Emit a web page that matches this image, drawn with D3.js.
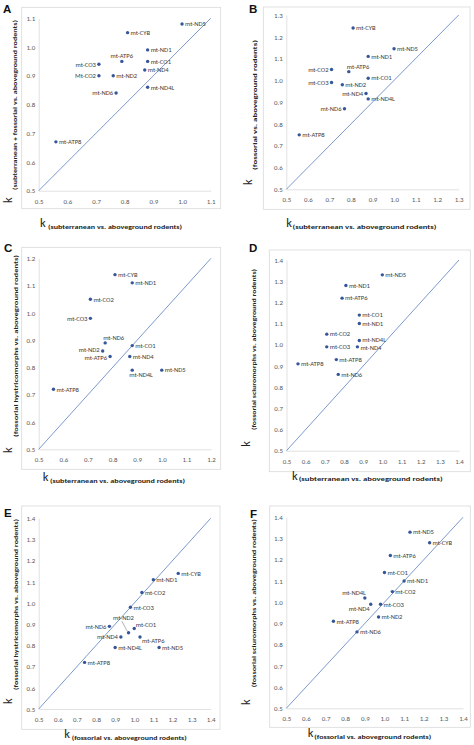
<!DOCTYPE html>
<html>
<head>
<meta charset="utf-8">
<script src="https://cdn.jsdelivr.net/npm/d3@7"></script>
<style>
  body { margin: 0; background: #fff; }
  svg { display: block; }
</style>
</head>
<body>
<svg id="chart" width="474" height="745"></svg>
<script>
// ---- tick values ----
const ticksA = [0.5, 0.6, 0.7, 0.8, 0.9, 1.0, 1.1];
const ticksB = [0.5, 0.6, 0.7, 0.8, 0.9, 1.0, 1.1, 1.2, 1.3];
const ticksC = [0.5, 0.6, 0.7, 0.8, 0.9, 1.0, 1.1, 1.2];
const ticksD = [0.5, 0.6, 0.7, 0.8, 0.9, 1.0, 1.1, 1.2, 1.3, 1.4];

// ---- panel A ----
const genesA = ["mt-ND5", "mt-CYB", "mt-ND1", "mt-ATP6", "mt-CO1", "mt-CO3", "Mt-CO2", "mt-ND2", "mt-ND4", "mt-ND4L", "mt-ND6", "mt-ATP8"];
const xA = [1.00, 0.81, 0.88, 0.79, 0.88, 0.71, 0.71, 0.76, 0.87, 0.88, 0.77, 0.56];
const yA = [1.08, 1.05, 0.99, 0.95, 0.95, 0.94, 0.90, 0.90, 0.92, 0.86, 0.84, 0.67];
const sideA = ["r", "r", "r", "t", "r", "l", "l", "r", "r", "r", "l", "r"];

// ---- panel B ----
const genesB = ["mt-CYB", "mt-ND5", "mt-ND1", "mt-CO2", "mt-ATP6", "mt-CO1", "mt-CO3", "mt-ND2", "mt-ND4", "mt-ND4L", "mt-ND6", "mt-ATP8"];
const xB = [0.81, 1.00, 0.88, 0.71, 0.79, 0.88, 0.71, 0.76, 0.87, 0.88, 0.77, 0.56];
const yB = [1.24, 1.145, 1.11, 1.05, 1.04, 1.01, 0.99, 0.98, 0.94, 0.915, 0.87, 0.75];
const sideB = ["r", "r", "r", "l", "tr", "r", "l", "r", "l", "r", "l", "r"];

// ---- panel C ----
const genesC = ["mt-CYB", "mt-ND1", "mt-CO2", "mt-CO3", "mt-ND6", "mt-ND2", "mt-ATP6", "mt-CO1", "mt-ND4", "mt-ND4L", "mt-ND5", "mt-ATP8"];
const xC = [0.81, 0.88, 0.71, 0.71, 0.77, 0.76, 0.79, 0.88, 0.87, 0.88, 1.00, 0.56];
const yC = [1.14, 1.11, 1.05, 0.98, 0.89, 0.86, 0.84, 0.88, 0.84, 0.79, 0.79, 0.72];
const sideC = ["r", "r", "r", "l", "tr", "lu", "ld", "r", "r", "br", "r", "r"];

// ---- panel D ----
const genesD = ["mt-ND5", "mt-ND1", "mt-ATP6", "mt-CO1", "mt-ND1", "mt-CO2", "mt-ND4L", "mt-CO3", "mt-ND4", "mt-ATP8", "mt-ATP8", "mt-ND6"];
const xD = [1.00, 0.81, 0.79, 0.88, 0.88, 0.71, 0.88, 0.71, 0.87, 0.76, 0.56, 0.77];
const yD = [1.33, 1.28, 1.22, 1.14, 1.10, 1.05, 1.02, 0.99, 0.99, 0.93, 0.91, 0.86];
const sideD = ["r", "r", "r", "r", "r", "r", "ru", "r", "rd", "r", "r", "r"];

// ---- panel E ----
const genesE = ["mt-CYB", "mt-ND1", "mt-CO2", "mt-CO3", "mt-ND6", "mt-ND2", "mt-CO1", "mt-ND4", "mt-ATP6", "mt-ND4L", "mt-ND5", "mt-ATP8"];
const xE = [1.23, 1.10, 1.04, 0.98, 0.87, 0.97, 1.00, 0.93, 1.03, 0.90, 1.13, 0.74];
const yE = [1.14, 1.11, 1.05, 0.98, 0.89, 0.86, 0.88, 0.84, 0.84, 0.79, 0.79, 0.72];
const sideE = ["r", "r", "r", "r", "l", "lead", "rt", "l", "rb", "r", "r", "r"];

// ---- panel F ----
const genesF = ["mt-ND5", "mt-CYB", "mt-ATP6", "mt-CO1", "mt-ND1", "mt-CO2", "mt-ND4L", "mt-ND4", "mt-CO3", "mt-ND2", "mt-ATP8", "mt-ND6"];
const xF = [1.13, 1.23, 1.03, 1.00, 1.10, 1.04, 0.90, 0.93, 0.98, 0.97, 0.74, 0.86];
const yF = [1.33, 1.28, 1.22, 1.14, 1.10, 1.05, 1.02, 0.99, 0.99, 0.93, 0.91, 0.86];
const sideF = ["r", "r", "r", "r", "r", "r", "tl", "bl", "r", "r", "r", "r"];

// axis titles
const subSA = "(subterranean vs. aboveground rodents)";
const subFA = "(fossorial vs. aboveground rodents)";

const FONT = "Carlito, Lato, 'Open Sans', sans-serif";
const svg = d3.select("#chart");
const fmt = d3.format(".1f");

// label placement: [dx, dy, anchor]
const sideOffset = {
  r: [3, 0, "start"], l: [-3, 0, "end"], t: [0, -6, "middle"],
  ru: [3, -1.2, "start"], rd: [3, 1.2, "start"],
  lu: [-3, -1.8, "end"], ld: [-3, 1.5, "end"],
  tr: [-2, -5, "start"], tl: [1, -5, "end"], br: [-3, 5, "start"],
  bl: [-1, 4, "end"], rb: [2, 3.5, "start"], rt: [1.5, -4, "start"],
  lead: [-5, -15, "middle"]
};

const panels = [
  { letter: "A", lp: [3, 13], genes: genesA, xs: xA, ys: yA, sides: sideA, xt: ticksA, yt: ticksA,
    box: [21.7, 7.3, 220.7, 208.7], xr: [38.7, 210.7], yr: [190.7, 18.3],
    ytitle: "(subterranean + fossorial vs. aboveground rodents)", yk: [12, 203], ys0: [17, 190, 170],
    xtitle: subSA, xk: [40, 227], xs0: [48, 228.5, 134] },
  { letter: "B", lp: [249, 12.5], genes: genesB, xs: xB, ys: yB, sides: sideB, xt: ticksB, yt: ticksB,
    box: [263.3, 7, 470, 209.3], xr: [286.3, 458.7], yr: [189.3, 15],
    ytitle: "(fossorial vs. aboveground rodents)", yk: [252, 185], ys0: [256.5, 170, 130],
    xtitle: subSA, xk: [286.3, 227], xs0: [292.5, 228.5, 144] },
  { letter: "C", lp: [4, 251.5], genes: genesC, xs: xC, ys: yC, sides: sideC, xt: ticksC, yt: ticksC,
    box: [21.7, 247.3, 220.7, 469.3], xr: [38.7, 211], yr: [449.3, 258.3],
    ytitle: "(fossorial hystricomorphs vs. aboveground rodents)", yk: [11.7, 453], ys0: [17.5, 437, 182],
    xtitle: subSA, xk: [42.7, 481], xs0: [50, 482.5, 135] },
  { letter: "D", lp: [249, 251.5], genes: genesD, xs: xD, ys: yD, sides: sideD, xt: ticksD, yt: ticksD,
    box: [269.3, 250, 470.3, 471.7], xr: [286.5, 459], yr: [450.7, 260],
    ytitle: "(fossorial sciuromorphs vs. aboveground rodents)", yk: [250.3, 446.7], ys0: [255.5, 430, 161],
    xtitle: subSA, xk: [292, 480], xs0: [298.7, 481, 144] },
  { letter: "E", lp: [4, 516.5], genes: genesE, xs: xE, ys: yE, sides: sideE, xt: ticksD, yt: ticksD,
    box: [21.7, 506, 220, 729.3], xr: [38.7, 210.7], yr: [709, 518.3],
    ytitle: "(fossorial hystricomorphs vs. aboveground rodents)", yk: [11.7, 704], ys0: [17.5, 690, 171],
    xtitle: subFA, xk: [64.3, 738.3], xs0: [71.7, 739.5, 115] },
  { letter: "F", lp: [250, 517.5], genes: genesF, xs: xF, ys: yF, sides: sideF, xt: ticksD, yt: ticksD,
    box: [269.7, 506, 470.3, 727.3], xr: [286.3, 463], yr: [708.3, 517.3],
    ytitle: "(fossorial sciuromorphs vs. aboveground rodents)", yk: [250.3, 705], ys0: [255.5, 687.3, 168],
    xtitle: subFA, xk: [307.7, 737.3], xs0: [314.3, 738.5, 117] }
];

panels.forEach(p => {
  const g = svg.append("g").attr("font-family", FONT);

  // chart-area frame
  g.append("rect")
    .attr("x", p.box[0]).attr("y", p.box[1])
    .attr("width", p.box[2] - p.box[0]).attr("height", p.box[3] - p.box[1])
    .attr("fill", "none").attr("stroke", "#d9d9d9").attr("stroke-width", 0.8);

  const x = d3.scaleLinear().domain(d3.extent(p.xt)).range(p.xr);
  const y = d3.scaleLinear().domain(d3.extent(p.yt)).range(p.yr);

  const ax = g.append("g")
    .attr("transform", `translate(0,${p.yr[0]})`)
    .call(d3.axisBottom(x).tickValues(p.xt).tickFormat(fmt).tickSize(0).tickPadding(8));
  const ay = g.append("g")
    .attr("transform", `translate(${p.xr[0]},0)`)
    .call(d3.axisLeft(y).tickValues(p.yt).tickFormat(fmt).tickSize(0).tickPadding(3.5));
  [ax, ay].forEach(a => {
    a.attr("font-family", FONT).attr("font-size", 6.9);
    a.select(".domain").attr("stroke", "#d9d9d9").attr("stroke-width", 0.8);
    a.selectAll("text").attr("fill", "#595959");
  });

  // y = x reference line
  const lo = Math.max(x.domain()[0], y.domain()[0]);
  const hi = Math.min(x.domain()[1], y.domain()[1]);
  g.append("line")
    .attr("x1", x(lo)).attr("y1", y(lo))
    .attr("x2", x(hi)).attr("y2", y(hi))
    .attr("stroke", "#5b7fc0").attr("stroke-width", 0.8);

  const pts = p.genes.map((name, i) => ({ name, vx: p.xs[i], vy: p.ys[i], side: p.sides[i] }));

  g.selectAll(".dot").data(pts).enter().append("circle")
    .attr("class", "dot")
    .attr("cx", d => x(d.vx)).attr("cy", d => y(d.vy))
    .attr("r", 1.7).attr("fill", "#36569a");

  // leader lines for displaced labels
  g.selectAll(".leader").data(pts.filter(d => d.side === "lead")).enter().append("line")
    .attr("x1", d => x(d.vx) - 6.7).attr("y1", d => y(d.vy) - 11.6)
    .attr("x2", d => x(d.vx) - 1.3).attr("y2", d => y(d.vy) - 1.6)
    .attr("stroke", "#7f7f7f").attr("stroke-width", 0.6);

  g.selectAll(".lbl").data(pts).enter().append("text")
    .attr("class", "lbl")
    .attr("x", d => x(d.vx) + sideOffset[d.side][0])
    .attr("y", d => y(d.vy) + sideOffset[d.side][1])
    .attr("dy", "0.35em")
    .attr("text-anchor", d => sideOffset[d.side][2])
    .attr("font-size", 6.6)
    .attr("fill", "#404040")
    .text(d => d.name);

  // panel letter
  g.append("text")
    .attr("x", p.lp[0]).attr("y", p.lp[1])
    .attr("font-family", "'Liberation Sans', Arial, sans-serif")
    .attr("font-weight", "bold").attr("font-size", 11.5)
    .attr("fill", "#111")
    .text(p.letter);

  // y-axis title (rotated)
  g.append("text")
    .attr("transform", `translate(${p.yk[0]},${p.yk[1]}) rotate(-90)`)
    .attr("font-size", 12.5).attr("fill", "#222")
    .text("k");
  g.append("text")
    .attr("transform", `translate(${p.ys0[0]},${p.ys0[1]}) rotate(-90)`)
    .attr("font-size", 6.8).attr("font-weight", "bold").attr("fill", "#222")
    .attr("textLength", p.ys0[2]).attr("lengthAdjust", "spacingAndGlyphs")
    .text(p.ytitle);

  // x-axis title
  g.append("text")
    .attr("x", p.xk[0]).attr("y", p.xk[1])
    .attr("font-size", 12.5).attr("fill", "#222")
    .text("k");
  g.append("text")
    .attr("x", p.xs0[0]).attr("y", p.xs0[1])
    .attr("font-size", 6.8).attr("font-weight", "bold").attr("fill", "#222")
    .attr("textLength", p.xs0[2]).attr("lengthAdjust", "spacingAndGlyphs")
    .text(p.xtitle);
});
</script>
</body>
</html>
